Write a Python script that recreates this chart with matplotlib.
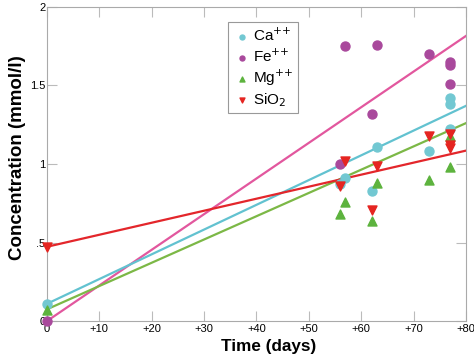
import numpy as np
import matplotlib.pyplot as plt

plt.rcParams['font.family'] = ['Liberation Sans', 'DejaVu Sans']

# measured points (days, mmol/l)
ca_t = [0, 56, 57, 62, 63, 73, 77, 77, 77]
ca_c = [0.11, 0.87, 0.91, 0.83, 1.11, 1.08, 1.42, 1.38, 1.22]
fe_t = [0, 56, 57, 62, 63, 73, 77, 77, 77]
fe_c = [0.0, 1.0, 1.75, 1.32, 1.76, 1.70, 1.65, 1.63, 1.51]
mg_t = [0, 56, 57, 62, 63, 73, 77, 77]
mg_c = [0.07, 0.68, 0.76, 0.64, 0.88, 0.90, 0.98, 1.18]
si_t = [0, 56, 57, 62, 63, 73, 77, 77, 77]
si_c = [0.47, 0.86, 1.02, 0.71, 0.99, 1.18, 1.19, 1.12, 1.10]

# trend lines: value at day 0 and day 80
fit_t = [0, 80]
ca_fit = [0.11, 1.37]
fe_fit = [0.0, 1.815]
mg_fit = [0.075, 1.26]
si_fit = [0.473, 1.085]

xticks = [0, 10, 20, 30, 40, 50, 60, 70, 80]
xlabels = ["0", "+10", "+20", "+30", "+40", "+50", "+60", "+70", "+80"]
yticks = [0, 0.5, 1, 1.5, 2]
ylabels = ["0", ".5", "1", "1.5", "2"]

fig = plt.figure(figsize=(4.74, 3.62), dpi=100)
ax = fig.add_axes([0.099, 0.113, 0.884, 0.868])

ax.plot(fit_t, fe_fit, color="#e2579e", lw=1.6, zorder=2)
ax.plot(fit_t, ca_fit, color="#62c2d0", lw=1.6, zorder=2)
ax.plot(fit_t, mg_fit, color="#7cb846", lw=1.6, zorder=2)
ax.plot(fit_t, si_fit, color="#e3262b", lw=1.6, zorder=2)

ax.scatter(ca_t, ca_c, s=42, color="#72c8d2", marker="o", label="Ca$^{{+}{+}}$", zorder=3, clip_on=False)
ax.scatter(fe_t, fe_c, s=42, color="#a9499c", marker="o", label="Fe$^{{+}{+}}$", zorder=3, clip_on=False)
ax.scatter(mg_t, mg_c, s=42, color="#5db33e", marker="^", label="Mg$^{{+}{+}}$", zorder=3, clip_on=False)
ax.scatter(si_t, si_c, s=42, color="#e52521", marker="v", label="SiO$_2$", zorder=3, clip_on=False)

ax.set_xlim(0, 80)
ax.set_ylim(0, 2)
ax.set_xticks(xticks)
ax.set_xticklabels(xlabels)
ax.set_yticks(yticks)
ax.set_yticklabels(ylabels)
ax.tick_params(direction="in", length=7, width=0.8, color="#bbbbbb",
               top=True, right=True, labelsize=8, pad=2)
ax.tick_params(axis="y", pad=1)
for sp in ax.spines.values():
    sp.set_color("#aaaaaa")
    sp.set_linewidth(0.8)

ax.set_xlabel("Time (days)", fontsize=12.3, fontweight="bold", labelpad=4, x=0.53)
ax.set_ylabel("Concentration (mmol/l)", fontsize=13.5, fontweight="bold", labelpad=3, y=0.52)

leg = ax.legend(loc="upper left", bbox_to_anchor=(0.415, 0.975), fontsize=11,
                markerscale=0.55, handletextpad=0.1, handlelength=1.2,
                borderpad=0.3, labelspacing=0.2, fancybox=False, framealpha=1)
leg.get_frame().set_edgecolor("#999999")
leg.get_frame().set_linewidth(0.8)

fig.savefig("out.png", dpi=100)
